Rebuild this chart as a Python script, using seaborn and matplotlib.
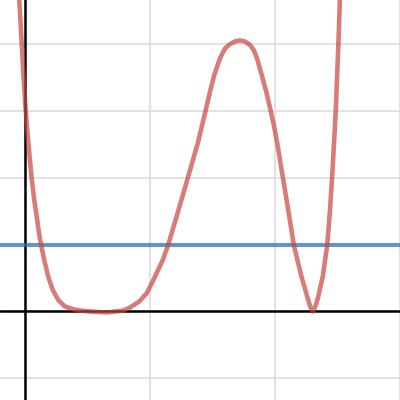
import numpy as np
import pandas as pd
import matplotlib
matplotlib.use("Agg")
import matplotlib.pyplot as plt
import seaborn as sns

# ==============================
# data
# ==============================
curve_x = [-0.050, -0.046, -0.026, -0.011, 0.006, 0.018, 0.032, 0.054, 0.074, 0.094,
           0.112, 0.128, 0.154, 0.186, 0.222, 0.266, 0.316, 0.386, 0.448, 0.520,
           0.656, 0.784, 0.840, 0.912, 0.974, 1.040, 1.102, 1.146, 1.228, 1.300,
           1.382, 1.444, 1.480, 1.514, 1.560, 1.600, 1.640, 1.680, 1.720, 1.760,
           1.800, 1.832, 1.856, 1.894, 1.930, 1.966, 1.994, 2.018, 2.065, 2.106,
           2.150, 2.212, 2.258, 2.280, 2.302, 2.324, 2.346, 2.382, 2.418, 2.440,
           2.456, 2.472, 2.486, 2.507, 2.519, 2.525]
curve_y = [4.96, 4.663, 4.000, 3.496, 3.000, 2.717, 2.418, 1.984, 1.669, 1.419,
           1.171, 1.006, 0.771, 0.521, 0.322, 0.172, 0.079, 0.033, 0.013, 0.000,
           -0.015, 0.012, 0.060, 0.147, 0.272, 0.521, 0.771, 1.000, 1.519, 1.984,
           2.518, 3.000, 3.290, 3.540, 3.790, 3.937, 4.004, 4.042, 4.057, 4.042,
           3.990, 3.907, 3.790, 3.540, 3.290, 3.000, 2.759, 2.518, 1.984, 1.519,
           1.000, 0.521, 0.222, 0.082, 0.000, 0.082, 0.222, 0.521, 1.000, 1.519,
           1.984, 2.518, 3.000, 4.000, 4.663, 4.96]
hline_y = 1

x_range = (-0.2, 3.0)
y_range = (-1.325, 4.663)
x_grid = [0, 1, 2, 3]
y_grid = [-1, 0, 1, 2, 3, 4]

df = pd.DataFrame({"x": curve_x, "y": curve_y})

# ==============================
# plot
# ==============================
sns.set_style("white")
fig = plt.figure(figsize=(4, 4), dpi=100)
ax = fig.add_axes([0, 0, 1, 1])

ax.set_xlim(*x_range)
ax.set_ylim(*y_range)
ax.set_xticks(x_grid)
ax.set_yticks(y_grid)
ax.grid(True, color="#dadada", linewidth=1.1)
ax.tick_params(length=0, labelbottom=False, labelleft=False)
for s in ax.spines.values():
    s.set_visible(False)

# axes through the origin
ax.axhline(0, color="black", linewidth=1.8, zorder=2)
ax.axvline(0, color="black", linewidth=1.8, zorder=2)

ax.axhline(hline_y, color="#2d70b3", alpha=0.7, linewidth=3.0, zorder=3)
sns.lineplot(data=df, x="x", y="y", ax=ax, sort=False, estimator=None,
             color="#c74440", alpha=0.7, linewidth=3.3, zorder=4,
             solid_joinstyle="round", solid_capstyle="round")
ax.set_xlabel("")
ax.set_ylabel("")

fig.savefig("out.png", dpi=100)
